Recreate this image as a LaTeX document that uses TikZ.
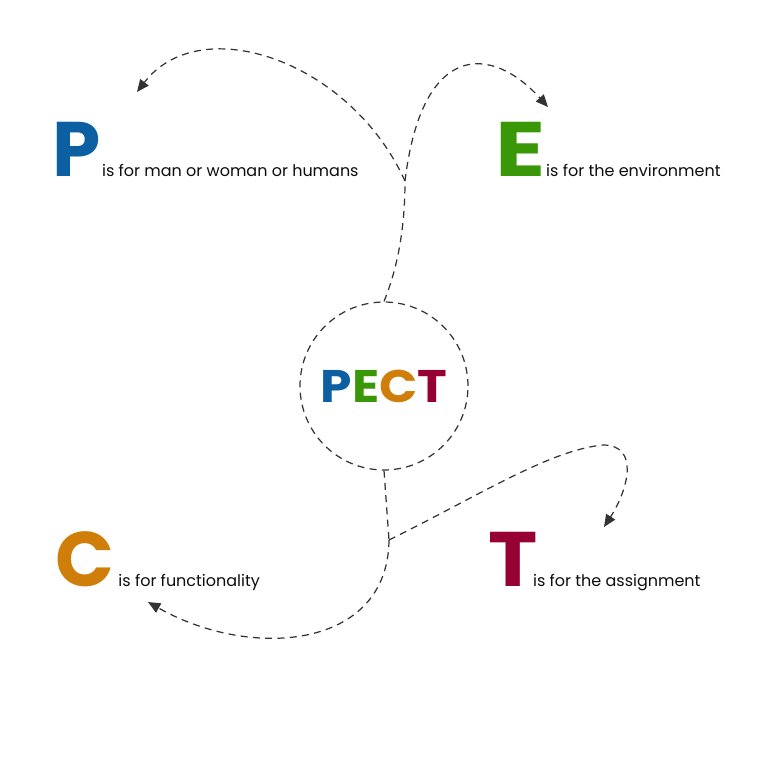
\documentclass[tikz,border=0pt]{standalone}
\usepackage{graphicx}
\usepackage{fontspec}
\setmainfont{Poppins}
\usetikzlibrary{arrows.meta}
\definecolor{pblue}{RGB}{12,95,160}
\definecolor{egreen}{RGB}{58,152,8}
\definecolor{corange}{RGB}{208,126,10}
\definecolor{tred}{RGB}{150,0,50}
\begin{document}
\begin{tikzpicture}[x=0.02cm,y=-0.02cm,
  trail/.style={draw=black!80,line width=0.7pt,dash pattern=on 4pt off 3pt},
  arrowend/.style={-{Triangle[length=7pt,width=6pt]}},
  bigletter/.style={anchor=base west,inner sep=0pt,font=\fontsize{44}{44}\selectfont\bfseries},
  caption/.style={anchor=base west,inner sep=0pt,text=black!95,font=\fontsize{9.1}{9.1}\selectfont}]
\useasboundingbox (0,0) rectangle (768,768);
%\draw[red] (0,0) rectangle (768,768);
\node[trail,circle,minimum size=3.36cm,inner sep=0pt,font=\fontsize{26}{26}\selectfont\bfseries] (Hub) at (384,386)
  {\scalebox{1.1}[1]{\color{pblue}P\color{egreen}E\color{corange}C\color{tred}T}};
\node[bigletter,text=pblue] (LetterP) at (52,176) {P};
\node[bigletter,text=egreen] (LetterE) at (495,176) {\scalebox{1.2}[1]{E}};
\node[bigletter,text=corange] (LetterC) at (55,586) {C};
\node[bigletter,text=tred] (LetterT) at (488,586) {\scalebox{1.08}[1]{T}};
\node[caption,xshift=0.5pt] (TextP) at (LetterP.base east) {is for man or woman or humans};
\node[caption,xshift=0pt] (TextE) at (LetterE.base east) {is for the environment};
\node[caption,xshift=2pt] (TextC) at (LetterC.base east) {is for functionality};
\node[caption,xshift=-3pt] (TextT) at (LetterT.base east) {is for the assignment};
\coordinate (JoinTop) at (405,181);
\coordinate (JoinBottom) at (389,540);
\coordinate (ArrowP) at (137,92);
\coordinate (ArrowE) at (548,107);
\coordinate (ArrowT) at (604,527);
\coordinate (ArrowC) at (148,602);
\draw[trail] (Hub.north) .. controls (400,262) and (405,220) .. (JoinTop);
\draw[trail,arrowend] (JoinTop) .. controls (350,60) and (200,10) .. (ArrowP);
\draw[trail,arrowend] (JoinTop) .. controls (422,40) and (492,45) .. (ArrowE);
\draw[trail] (Hub.south) -- (JoinBottom);
\draw[trail,arrowend] (JoinBottom) .. controls (480,495) and (550,450) .. (603,445)
  .. controls (640,445) and (628,490) .. (ArrowT);
\draw[trail,arrowend] (JoinBottom) .. controls (388,650) and (250,660) .. (ArrowC);
\end{tikzpicture}
\end{document}
